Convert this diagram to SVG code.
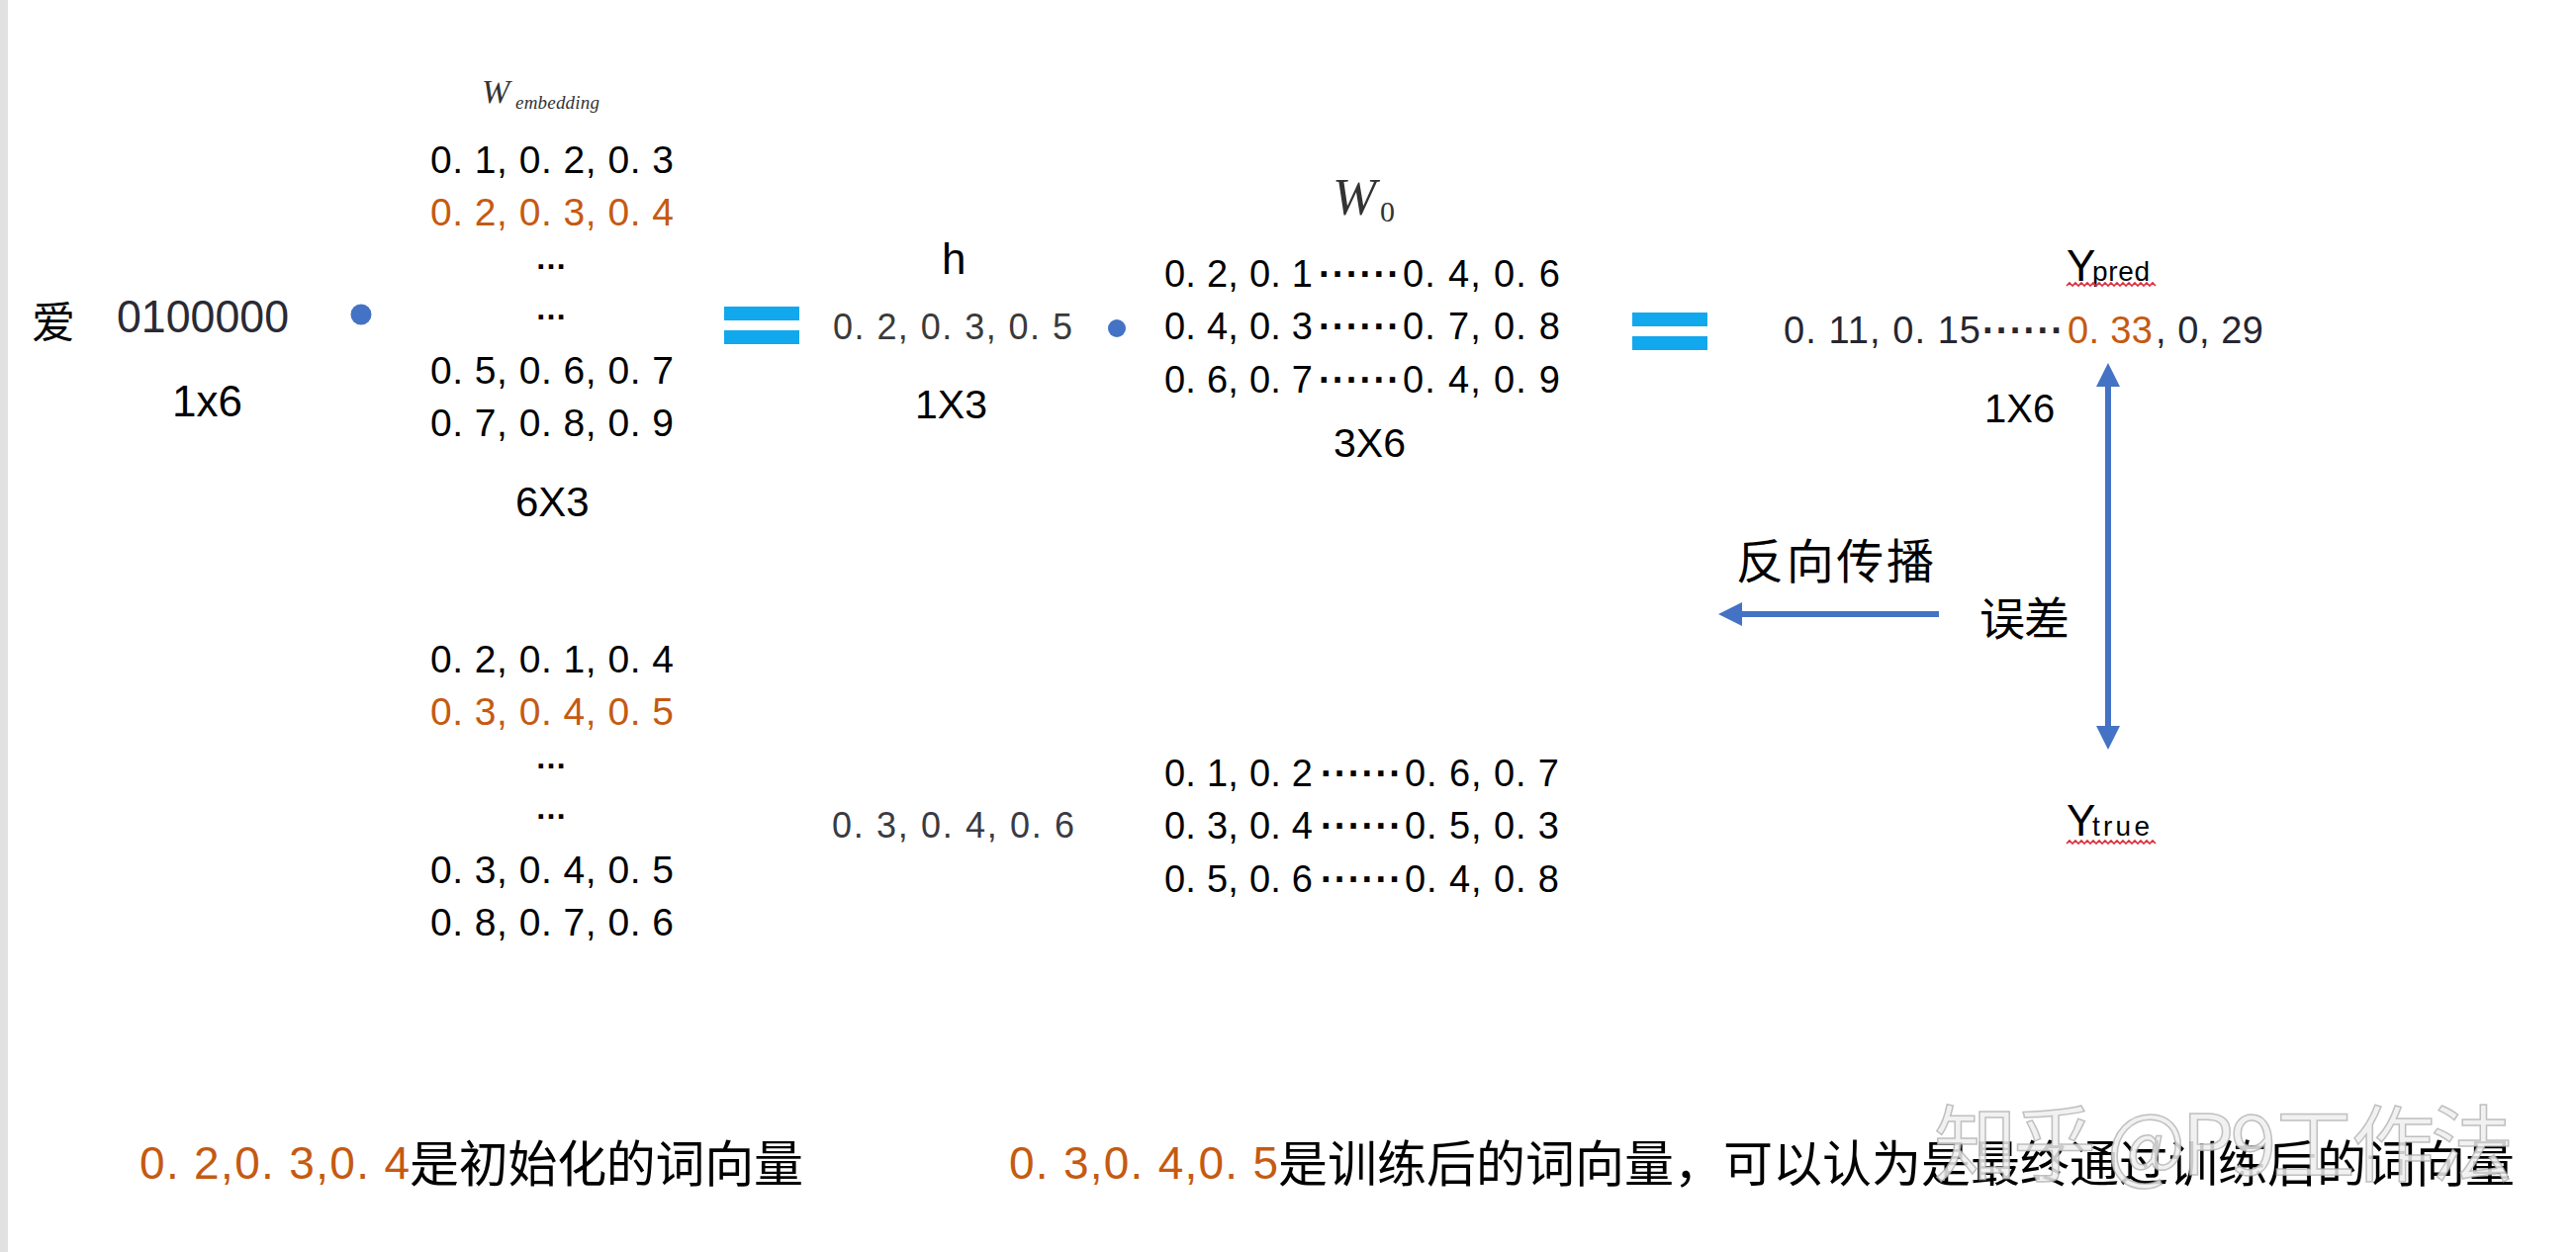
<svg xmlns="http://www.w3.org/2000/svg" width="2604" height="1266" viewBox="0 0 2604 1266">
<style>
.t{font-family:"Liberation Sans",Arial,sans-serif;fill:#000}
.m{font-size:39px}
.w{font-size:38px}
.o{fill:#c55a11}
.g{fill:#3a3a3a}
.d{fill:#262630}
.lbl{font-size:42px}
.el{font-size:32px;font-weight:bold}
.md{font-weight:bold}
.cjk{font-family:"Noto Sans CJK SC","Noto Sans CJK JP",sans-serif;fill:#000}
.ser{font-family:"Liberation Serif","Times New Roman",serif;font-style:italic;fill:#333}
.dot{fill:#4472c4}
.eq{fill:#12a8ee}
.arr{stroke:#4472c4;stroke-width:6;fill:none}
.wave{stroke:#d9303e;stroke-width:1.6;fill:none}
</style>
<defs>
<marker id="ah" viewBox="0 0 24 24" refX="12" refY="12" markerWidth="24" markerHeight="24" markerUnits="userSpaceOnUse" orient="auto-start-reverse">
<path d="M0,0 L24,12 L0,24 z" fill="#4472c4"/>
</marker>
</defs>
<rect x="0" y="0" width="2604" height="1266" fill="#ffffff"/>
<rect x="0" y="0" width="8" height="1266" fill="#e1e1e1"/>

<g id="word-ai">
<text class="cjk" x="32" y="342" font-size="44">爱</text>
<text class="t" x="118" y="336" font-size="46" style="fill:#2a2a35" textLength="174" lengthAdjust="spacingAndGlyphs">0100000</text>
<text class="t" x="174" y="421" font-size="44">1x6</text>
</g>

<g id="dot1"><circle class="dot" cx="365" cy="318" r="10.5"/></g>

<g id="w-embedding">
<text class="ser" x="487" y="104" font-size="34">W</text>
<text class="ser" x="521" y="110" font-size="19" textLength="85">embedding</text>
<text class="t m" x="435" y="175" textLength="246">0. 1, 0. 2, 0. 3</text>
<text class="t m o" x="435" y="228" textLength="246">0. 2, 0. 3, 0. 4</text>
<text class="t el" x="557" y="272" text-anchor="middle">…</text>
<text class="t el" x="557" y="323" text-anchor="middle">…</text>
<text class="t m" x="435" y="388" textLength="246">0. 5, 0. 6, 0. 7</text>
<text class="t m" x="435" y="441" textLength="246">0. 7, 0. 8, 0. 9</text>
<text class="t lbl" x="521" y="522">6X3</text>
</g>

<g id="eq1">
<rect class="eq" x="732" y="310" width="76" height="14"/>
<rect class="eq" x="732" y="334" width="76" height="14"/>
</g>

<g id="h">
<text class="t" x="952" y="277" font-size="44">h</text>
<text class="t g" x="842" y="343" font-size="36" textLength="242">0. 2, 0. 3, 0. 5</text>
<text class="t" x="925" y="423" font-size="41">1X3</text>
</g>

<g id="dot2"><circle class="dot" cx="1129" cy="332" r="9"/></g>

<g id="w0">
<text class="ser" x="1347" y="217" font-size="53">W</text>
<text x="1395" y="224" font-size="30" style="font-family:'Liberation Serif',serif;fill:#333">0</text>
<text class="t w" x="1177" y="290" textLength="150">0. 2, 0. 1</text>
<text class="t w md" x="1333" y="290" textLength="82">······</text>
<text class="t w" x="1418" y="290" textLength="159">0. 4, 0. 6</text>
<text class="t w" x="1177" y="343" textLength="150">0. 4, 0. 3</text>
<text class="t w md" x="1333" y="343" textLength="82">······</text>
<text class="t w" x="1418" y="343" textLength="159">0. 7, 0. 8</text>
<text class="t w" x="1177" y="397" textLength="150">0. 6, 0. 7</text>
<text class="t w md" x="1333" y="397" textLength="82">······</text>
<text class="t w" x="1418" y="397" textLength="159">0. 4, 0. 9</text>
<text class="t" x="1348" y="462" font-size="41">3X6</text>
</g>

<g id="eq2">
<rect class="eq" x="1650" y="316" width="76" height="14"/>
<rect class="eq" x="1650" y="340" width="76" height="14"/>
</g>

<g id="ypred">
<text class="t" x="2089" y="284" font-size="44">Y</text>
<text class="t" x="2115" y="284" font-size="28" textLength="58">pred</text>
<path class="wave" d="M2089 289 l3 -3 l3 3 l3 -3 l3 3 l3 -3 l3 3 l3 -3 l3 3 l3 -3 l3 3 l3 -3 l3 3 l3 -3 l3 3 l3 -3 l3 3 l3 -3 l3 3 l3 -3 l3 3 l3 -3 l3 3 l3 -3 l3 3 l3 -3 l3 3 l3 -3 l3 3 l3 -3 l3 3"/>
<text class="t w d" x="1803" y="347" textLength="199">0. 11, 0. 15</text>
<text class="t w d md" x="2004" y="347" textLength="82">······</text>
<text class="t w o" x="2090" y="347" textLength="86">0. 33</text>
<text class="t w d" x="2179" y="347" textLength="109">, 0, 29</text>
<text class="t" x="2006" y="427" font-size="40">1X6</text>
</g>

<g id="backprop">
<text class="cjk" x="1755" y="585" font-size="48" textLength="200">反向传播</text>
</g>

<g id="error">
<text class="cjk" x="2001" y="642" font-size="46" textLength="91">误差</text>
</g>

<g id="ytrue">
<text class="t" x="2089" y="845" font-size="44">Y</text>
<text class="t" x="2115" y="845" font-size="28" textLength="58">true</text>
<path class="wave" d="M2089 853 l3 -3 l3 3 l3 -3 l3 3 l3 -3 l3 3 l3 -3 l3 3 l3 -3 l3 3 l3 -3 l3 3 l3 -3 l3 3 l3 -3 l3 3 l3 -3 l3 3 l3 -3 l3 3 l3 -3 l3 3 l3 -3 l3 3 l3 -3 l3 3 l3 -3 l3 3 l3 -3 l3 3"/>
</g>

<g id="w-embedding-trained">
<text class="t m" x="435" y="680" textLength="246">0. 2, 0. 1, 0. 4</text>
<text class="t m o" x="435" y="733" textLength="246">0. 3, 0. 4, 0. 5</text>
<text class="t el" x="557" y="777" text-anchor="middle">…</text>
<text class="t el" x="557" y="828" text-anchor="middle">…</text>
<text class="t m" x="435" y="893" textLength="246">0. 3, 0. 4, 0. 5</text>
<text class="t m" x="435" y="946" textLength="246">0. 8, 0. 7, 0. 6</text>
</g>

<g id="h-trained">
<text class="t" x="841" y="847" font-size="36" style="fill:#3a3a44" textLength="245">0. 3, 0. 4, 0. 6</text>
</g>

<g id="w0-trained">
<text class="t w" x="1177" y="795" textLength="150">0. 1, 0. 2</text>
<text class="t w md" x="1335" y="795" textLength="82">······</text>
<text class="t w" x="1420" y="795" textLength="156">0. 6, 0. 7</text>
<text class="t w" x="1177" y="848" textLength="150">0. 3, 0. 4</text>
<text class="t w md" x="1335" y="848" textLength="82">······</text>
<text class="t w" x="1420" y="848" textLength="156">0. 5, 0. 3</text>
<text class="t w" x="1177" y="902" textLength="150">0. 5, 0. 6</text>
<text class="t w md" x="1335" y="902" textLength="82">······</text>
<text class="t w" x="1420" y="902" textLength="156">0. 4, 0. 8</text>
</g>

<g id="note-init">
<text class="t o" x="141" y="1192" font-size="46" textLength="273">0. 2,0. 3,0. 4</text>
<text class="cjk" x="414" y="1195" font-size="50" textLength="398">是初始化的词向量</text>
</g>

<g id="note-trained">
<text class="t o" x="1020" y="1192" font-size="46" textLength="272">0. 3,0. 4,0. 5</text>
<text class="cjk" x="1292" y="1195" font-size="50" textLength="1250">是训练后的词向量，可以认为是最终通过训练后的词向量</text>
</g>

<g id="connectors">
<line class="arr" x1="2131" y1="379" x2="2131" y2="746" marker-start="url(#ah)" marker-end="url(#ah)"/>
<line class="arr" x1="1960" y1="621" x2="1749" y2="621" marker-end="url(#ah)"/>
</g>

<g id="watermark">
<text x="1955" y="1188" font-size="84" textLength="586" style="font-family:'Noto Sans CJK SC',sans-serif;fill:#eeeeee;fill-opacity:0.85;stroke:#a8a8a8;stroke-opacity:0.7;stroke-width:1.5">知乎 @P9工作法</text>
</g>
</svg>
